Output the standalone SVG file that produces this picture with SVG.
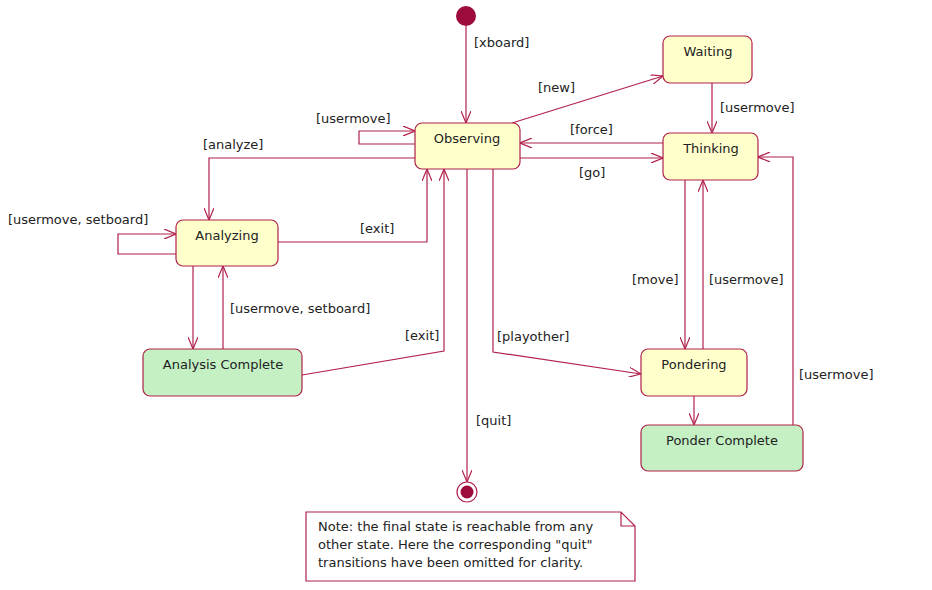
<svg xmlns="http://www.w3.org/2000/svg" width="932" height="590" viewBox="0 0 932 590">
<style>
.n{stroke:#b0204a;stroke-width:1.2}
.y{fill:#ffffcc}.g{fill:#c4f0c4}
text{font-family:"DejaVu Sans",sans-serif;font-size:13px;fill:#222}
.c path{fill:none;stroke:#b0204a;stroke-width:1.2;marker-end:url(#a)}
</style>
<defs><marker id="a" viewBox="0 0 12 10" refX="12" refY="5" markerWidth="12" markerHeight="10" markerUnits="userSpaceOnUse" orient="auto"><path d="M0,0 L12,5 L0,10" fill="none" stroke="#b0204a" stroke-width="1.2"/></marker></defs>
<rect width="932" height="590" fill="#fff"/>
<g class="c">
<path d="M466,26V123"/>
<path d="M415,144H359V131H415"/>
<path d="M415,158H209V220"/>
<path d="M176,254H118V234H176"/>
<path d="M278,242H427V169"/>
<path d="M193,266V349"/>
<path d="M223,349V266"/>
<path d="M302,375L444,351V169"/>
<path d="M467,169V482"/>
<path d="M493,169V352L641,374"/>
<path d="M512,123L663,76"/>
<path d="M663,143H520"/>
<path d="M520,158H663"/>
<path d="M712,83V133"/>
<path d="M685,180V349"/>
<path d="M703,349V180"/>
<path d="M694,396V425"/>
<path d="M793,425V157H758"/>
</g>
<g id="labels">
<text x="474" y="47">[xboard]</text>
<text x="316" y="123">[usermove]</text>
<text x="203" y="149">[analyze]</text>
<text x="8" y="224">[usermove, setboard]</text>
<text x="360" y="233">[exit]</text>
<text x="230" y="313">[usermove, setboard]</text>
<text x="405" y="340">[exit]</text>
<text x="476" y="425">[quit]</text>
<text x="497" y="341">[playother]</text>
<text x="538" y="92">[new]</text>
<text x="570" y="134">[force]</text>
<text x="579" y="177">[go]</text>
<text x="720" y="112">[usermove]</text>
<text x="632" y="284">[move]</text>
<text x="709" y="284">[usermove]</text>
<text x="799" y="379">[usermove]</text>
</g>
<g id="initial"><circle cx="466" cy="16" r="10" fill="#9c0b3b"/></g>
<g id="final"><circle cx="467" cy="492" r="10" fill="#fff" class="n"/><circle cx="467" cy="492" r="6.5" fill="#9c0b3b"/></g>
<g id="observing"><rect x="415" y="123" width="105" height="46" rx="7" class="n y"/><text x="467" y="143" text-anchor="middle">Observing</text></g>
<g id="analyzing"><rect x="176" y="220" width="102" height="46" rx="7" class="n y"/><text x="227" y="240" text-anchor="middle">Analyzing</text></g>
<g id="analysiscomplete"><rect x="143" y="349" width="159" height="47" rx="7" class="n g"/><text x="223" y="369" text-anchor="middle">Analysis Complete</text></g>
<g id="waiting"><rect x="663" y="36" width="89" height="47" rx="7" class="n y"/><text x="708" y="56" text-anchor="middle">Waiting</text></g>
<g id="thinking"><rect x="663" y="133" width="95" height="47" rx="7" class="n y"/><text x="711" y="153" text-anchor="middle">Thinking</text></g>
<g id="pondering"><rect x="641" y="349" width="106" height="47" rx="7" class="n y"/><text x="694" y="369" text-anchor="middle">Pondering</text></g>
<g id="pondercomplete"><rect x="641" y="425" width="162" height="46" rx="7" class="n g"/><text x="722" y="445" text-anchor="middle">Ponder Complete</text></g>
<g id="note"><path d="M306,512H621L635,526V581H306Z M621,512V526H635" fill="#fff" class="n"/>
<text x="318" y="531">Note: the final state is reachable from any</text>
<text x="318" y="549">other state. Here the corresponding "quit"</text>
<text x="318" y="567">transitions have been omitted for clarity.</text></g>
</svg>
